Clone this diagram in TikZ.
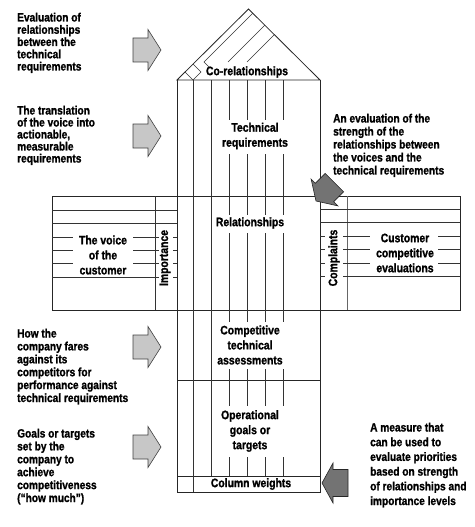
\documentclass[tikz,border=0pt]{standalone}
\usepackage{fontspec}
\setmainfont{Liberation Sans}[FakeStretch=0.845, BoldFeatures={FakeBold=1.2}]
\begin{document}
\begin{tikzpicture}[x=1pt,y=-1pt,
  ln/.style={draw=black!85, line width=0.8pt},
  fine/.style={draw=black!80, line width=0.6pt},
  lbl/.style={font=\fontsize{12.3}{15}\selectfont\bfseries, inner sep=0pt, align=center},
  side/.style={font=\fontsize{12}{#1}\selectfont\bfseries, inner sep=0pt, align=left, anchor=north west},
  lightarrow/.style={fill=black!22, draw=black!75, line width=0.6pt},
  darkarrow/.style={fill=black!55, draw=black!85, line width=0.6pt},
  rarrow/.pic={\path[pic actions] (0,-12) -- (15,-12) -- (15,-20.5) -- (28,0) -- (15,20.5) -- (15,12) -- (0,12) -- cycle;},
  larrow/.pic={\path[pic actions] (0,0) -- (11,-20) -- (11,-13.5) -- (26,-13.5) -- (26,13.5) -- (11,13.5) -- (11,20) -- cycle;}
]
\useasboundingbox (0,0) rectangle (474,527);

% ---- roof ----
\coordinate (rl) at (177,80);
\coordinate (ra) at (248.5,9);
\coordinate (rr) at (320,80);
\draw[ln] (rl) -- (ra) -- (rr) -- cycle;
\draw[fine] (185,72) -- (193,80) -- (201,72) -- (193,64);
\draw[fine] (210,68) -- (204,62) -- (252.75,13.25);
\draw[fine] (228,62) -- (264.75,25.25);
\draw[fine] (247,62) -- (274.25,34.75);

% ---- column ----
\draw[ln] (177,80) -- (177,492) -- (320,492) -- (320,80);
\draw[ln] (177,196) -- (320,196);
\draw[ln] (177,310) -- (320,310);
\draw[ln] (177,380) -- (320,380);
\draw[ln] (177,476) -- (320,476);
\draw[fine] (193,80) -- (193,492);
\draw[fine] (211,80) -- (211,476);
\foreach \x in {229,247,265,283}{
  \draw[fine] (\x,80) -- (\x,120);
  \draw[fine] (\x,154) -- (\x,215);
  \draw[fine] (\x,233) -- (\x,322);
  \draw[fine] (\x,369) -- (\x,406);
  \draw[fine] (\x,457) -- (\x,476);
}

% ---- left room ----
\draw[ln] (52,196) rectangle (177,310);
\draw[fine] (155,196) -- (155,310);
\draw[fine] (52,210) -- (177,210);
\draw[fine] (52,223) -- (177,223);
\draw[fine] (52,277) -- (155,277);
\foreach \y in {237,250,263}{
  \draw[fine] (52,\y) -- (73,\y);
  \draw[fine] (133,\y) -- (155,\y);
}
\foreach \y in {237,250,263,277}{
  \draw[fine] (155,\y) -- (159,\y);
  \draw[fine] (173,\y) -- (177,\y);
}

% ---- right room ----
\draw[ln] (320,196) rectangle (460,310);
\draw[draw=black!60, line width=0.5pt] (347,196) -- (347,310);
\draw[fine] (320,209) -- (460,209);
\draw[fine] (320,222) -- (460,222);
\draw[fine] (347,276) -- (460,276);
\foreach \y in {236,249,263}{
  \draw[fine] (347,\y) -- (370,\y);
  \draw[fine] (438,\y) -- (460,\y);
}
\foreach \y in {236,249,263,276}{
  \draw[fine] (320,\y) -- (325,\y);
  \draw[fine] (343,\y) -- (347,\y);
}

% ---- labels inside ----
\node[lbl] (corel) at (247,72) {Co-relationships};
\node[lbl] (techreq) at (255,136) {Technical\\requirements};
\node[lbl] (rel) at (250,223) {Relationships};
\node[lbl] (comp) at (250,345) {Competitive\\technical\\assessments};
\node[lbl] (oper) at (250,431) {Operational\\goals or\\targets};
\node[lbl] (colw) at (251,484) {Column weights};
\node[lbl] (voice) at (103,255) {The voice\\of the\\customer};
\node[lbl] (cce) at (405,253) {Customer\\competitive\\evaluations};
\node[lbl, rotate=90] (imp) at (165,258) {Importance};
\node[lbl, rotate=90] (cmpl) at (334,258) {Complaints};

% ---- side texts ----
\node[side=12.25] (t1) at (17,12.6) {Evaluation of\\relationships\\between the\\technical\\requirements};
\node[side=12] (t2) at (17,105.6) {The translation\\of the voice into\\actionable,\\measurable\\requirements};
\node[side=12.9] (t3) at (17,328.6) {How the\\company fares\\against its\\competitors for\\performance against\\technical requirements};
\node[side=12.9] (t4) at (17,428.6) {Goals or targets\\set by the\\company to\\achieve\\competitiveness\\(``how much'')};
\node[side=13] (t5) at (333,113.6) {An evaluation of the\\strength of the\\relationships between\\the voices and the\\technical requirements};
\node[side=14.7] (t6) at (370,422.6) {A measure that\\can be used to\\evaluate priorities\\based on strength\\of relationships and\\importance levels};

% ---- block arrows ----
\pic[lightarrow] at (133,50) {rarrow};
\pic[lightarrow] at (133,136) {rarrow};
\pic[lightarrow] at (133,347) {rarrow};
\pic[lightarrow] at (133,447) {rarrow};
\pic[darkarrow] at (322,483) {larrow};
\path[darkarrow] (316,201) -- (311.1,179.1) -- (315.3,183.3) -- (325.2,173.4)
  -- (343.6,191.8) -- (333.7,201.7) -- (337.9,205.9) -- cycle;
\end{tikzpicture}
\end{document}
